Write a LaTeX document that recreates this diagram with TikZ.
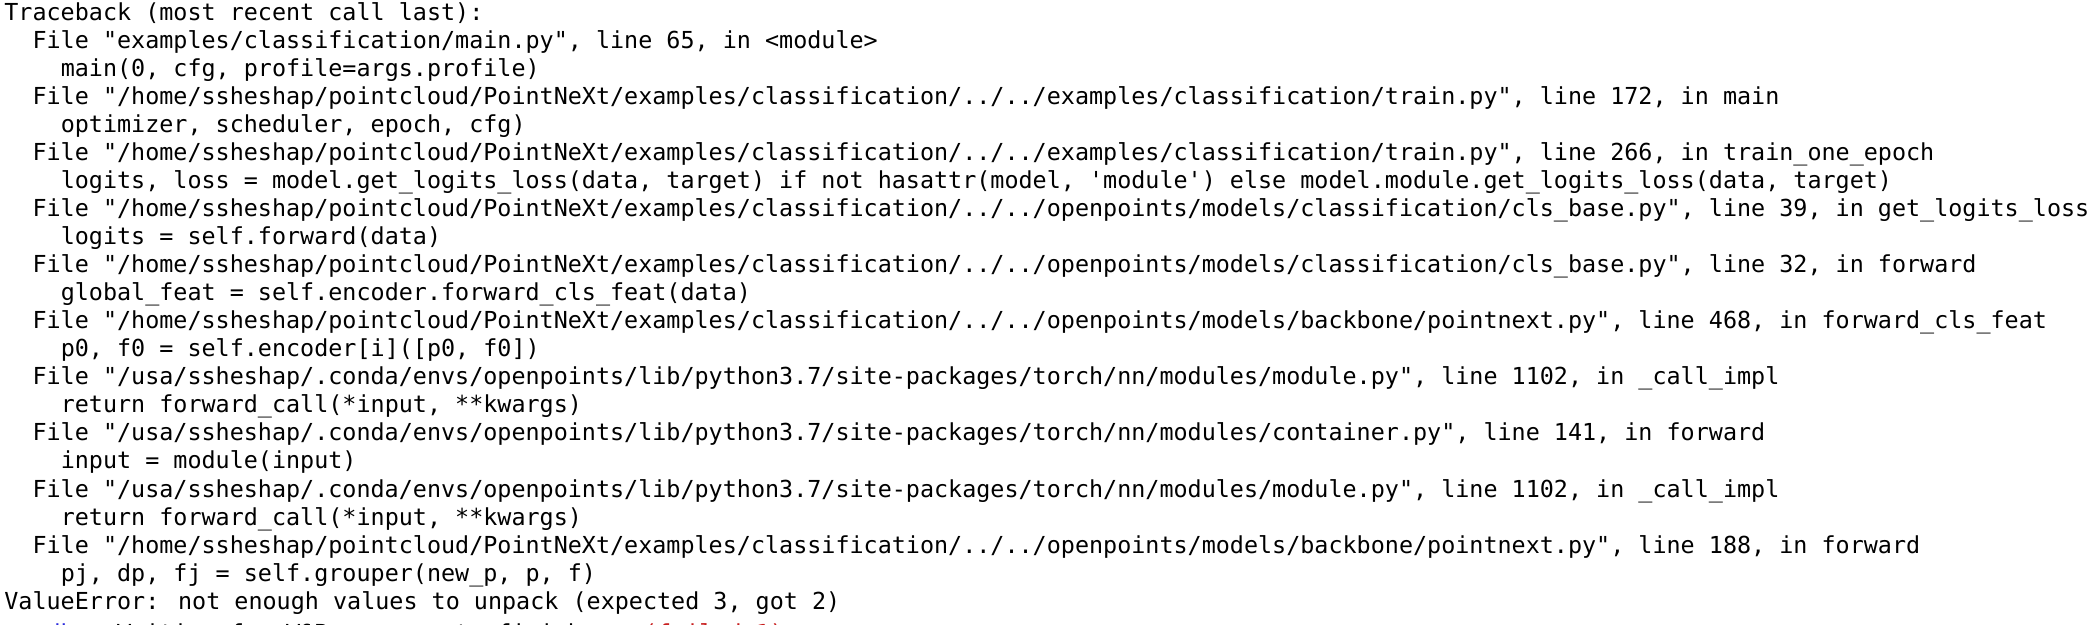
\documentclass[tikz,border=0pt]{standalone}
\usepackage{fontspec}
\newfontfamily\codefont{DejaVu Sans Mono}
\definecolor{wblue}{RGB}{40,40,220}
\definecolor{wred}{RGB}{200,30,30}
\begin{document}
\begin{tikzpicture}[x=1bp,y=1bp,
  ln/.style={anchor=base west,inner sep=0pt,font=\codefont\fontsize{11.7bp}{14bp}\selectfont}]
\useasboundingbox (0,0) rectangle (1045,-312);
\fill[white] (0,0) rectangle (1045,-312);
\clip (0,0) rectangle (1045,-312);
\def\L{14.03}
\node[ln] (l0) at (2,-10) {Traceback (most recent call last):};
\node[ln] (l1) at (2,-10-1*\L) {\ \ File "examples/classification/main.py", line 65, in <module>};
\node[ln] (l2) at (2,-10-2*\L) {\ \ \ \ main(0, cfg, profile=args.profile)};
\node[ln] (l3) at (2,-10-3*\L) {\ \ File "/home/ssheshap/pointcloud/PointNeXt/examples/classification/../../examples/classification/train.py", line 172, in main};
\node[ln] (l4) at (2,-10-4*\L) {\ \ \ \ optimizer, scheduler, epoch, cfg)};
\node[ln] (l5) at (2,-10-5*\L) {\ \ File "/home/ssheshap/pointcloud/PointNeXt/examples/classification/../../examples/classification/train.py", line 266, in train\_one\_epoch};
\node[ln] (l6) at (2,-10-6*\L) {\ \ \ \ logits, loss = model.get\_logits\_loss(data, target) if not hasattr(model, 'module') else model.module.get\_logits\_loss(data, target)};
\node[ln] (l7) at (2,-10-7*\L) {\ \ File "/home/ssheshap/pointcloud/PointNeXt/examples/classification/../../openpoints/models/classification/cls\_base.py", line 39, in get\_logits\_loss};
\node[ln] (l8) at (2,-10-8*\L) {\ \ \ \ logits = self.forward(data)};
\node[ln] (l9) at (2,-10-9*\L) {\ \ File "/home/ssheshap/pointcloud/PointNeXt/examples/classification/../../openpoints/models/classification/cls\_base.py", line 32, in forward};
\node[ln] (l10) at (2,-10-10*\L) {\ \ \ \ global\_feat = self.encoder.forward\_cls\_feat(data)};
\node[ln] (l11) at (2,-10-11*\L) {\ \ File "/home/ssheshap/pointcloud/PointNeXt/examples/classification/../../openpoints/models/backbone/pointnext.py", line 468, in forward\_cls\_feat};
\node[ln] (l12) at (2,-10-12*\L) {\ \ \ \ p0, f0 = self.encoder[i]([p0, f0])};
\node[ln] (l13) at (2,-10-13*\L) {\ \ File "/usa/ssheshap/.conda/envs/openpoints/lib/python3.7/site-packages/torch/nn/modules/module.py", line 1102, in \_call\_impl};
\node[ln] (l14) at (2,-10-14*\L) {\ \ \ \ return forward\_call(*input, **kwargs)};
\node[ln] (l15) at (2,-10-15*\L) {\ \ File "/usa/ssheshap/.conda/envs/openpoints/lib/python3.7/site-packages/torch/nn/modules/container.py", line 141, in forward};
\node[ln] (l16) at (2,-10-16*\L) {\ \ \ \ input = module(input)};
\node[ln] (l17) at (2,-10-17*\L) {\ \ File "/usa/ssheshap/.conda/envs/openpoints/lib/python3.7/site-packages/torch/nn/modules/module.py", line 1102, in \_call\_impl};
\node[ln] (l18) at (2,-10-18*\L) {\ \ \ \ return forward\_call(*input, **kwargs)};
\node[ln] (l19) at (2,-10-19*\L) {\ \ File "/home/ssheshap/pointcloud/PointNeXt/examples/classification/../../openpoints/models/backbone/pointnext.py", line 188, in forward};
\node[ln] (l20) at (2,-10-20*\L) {\ \ \ \ pj, dp, fj = self.grouper(new\_p, p, f)};
\node[ln] (l21) at (2,-10-21*\L) {ValueError: not enough values to unpack (expected 3, got 2)};
\node[ln] (l22) at (2,-12-22*\L) {\textcolor{wblue}{wandb}:\ \ Waiting for W\&B process to finish... \textcolor{wred}{(failed 1).}};
\end{tikzpicture}
\end{document}
